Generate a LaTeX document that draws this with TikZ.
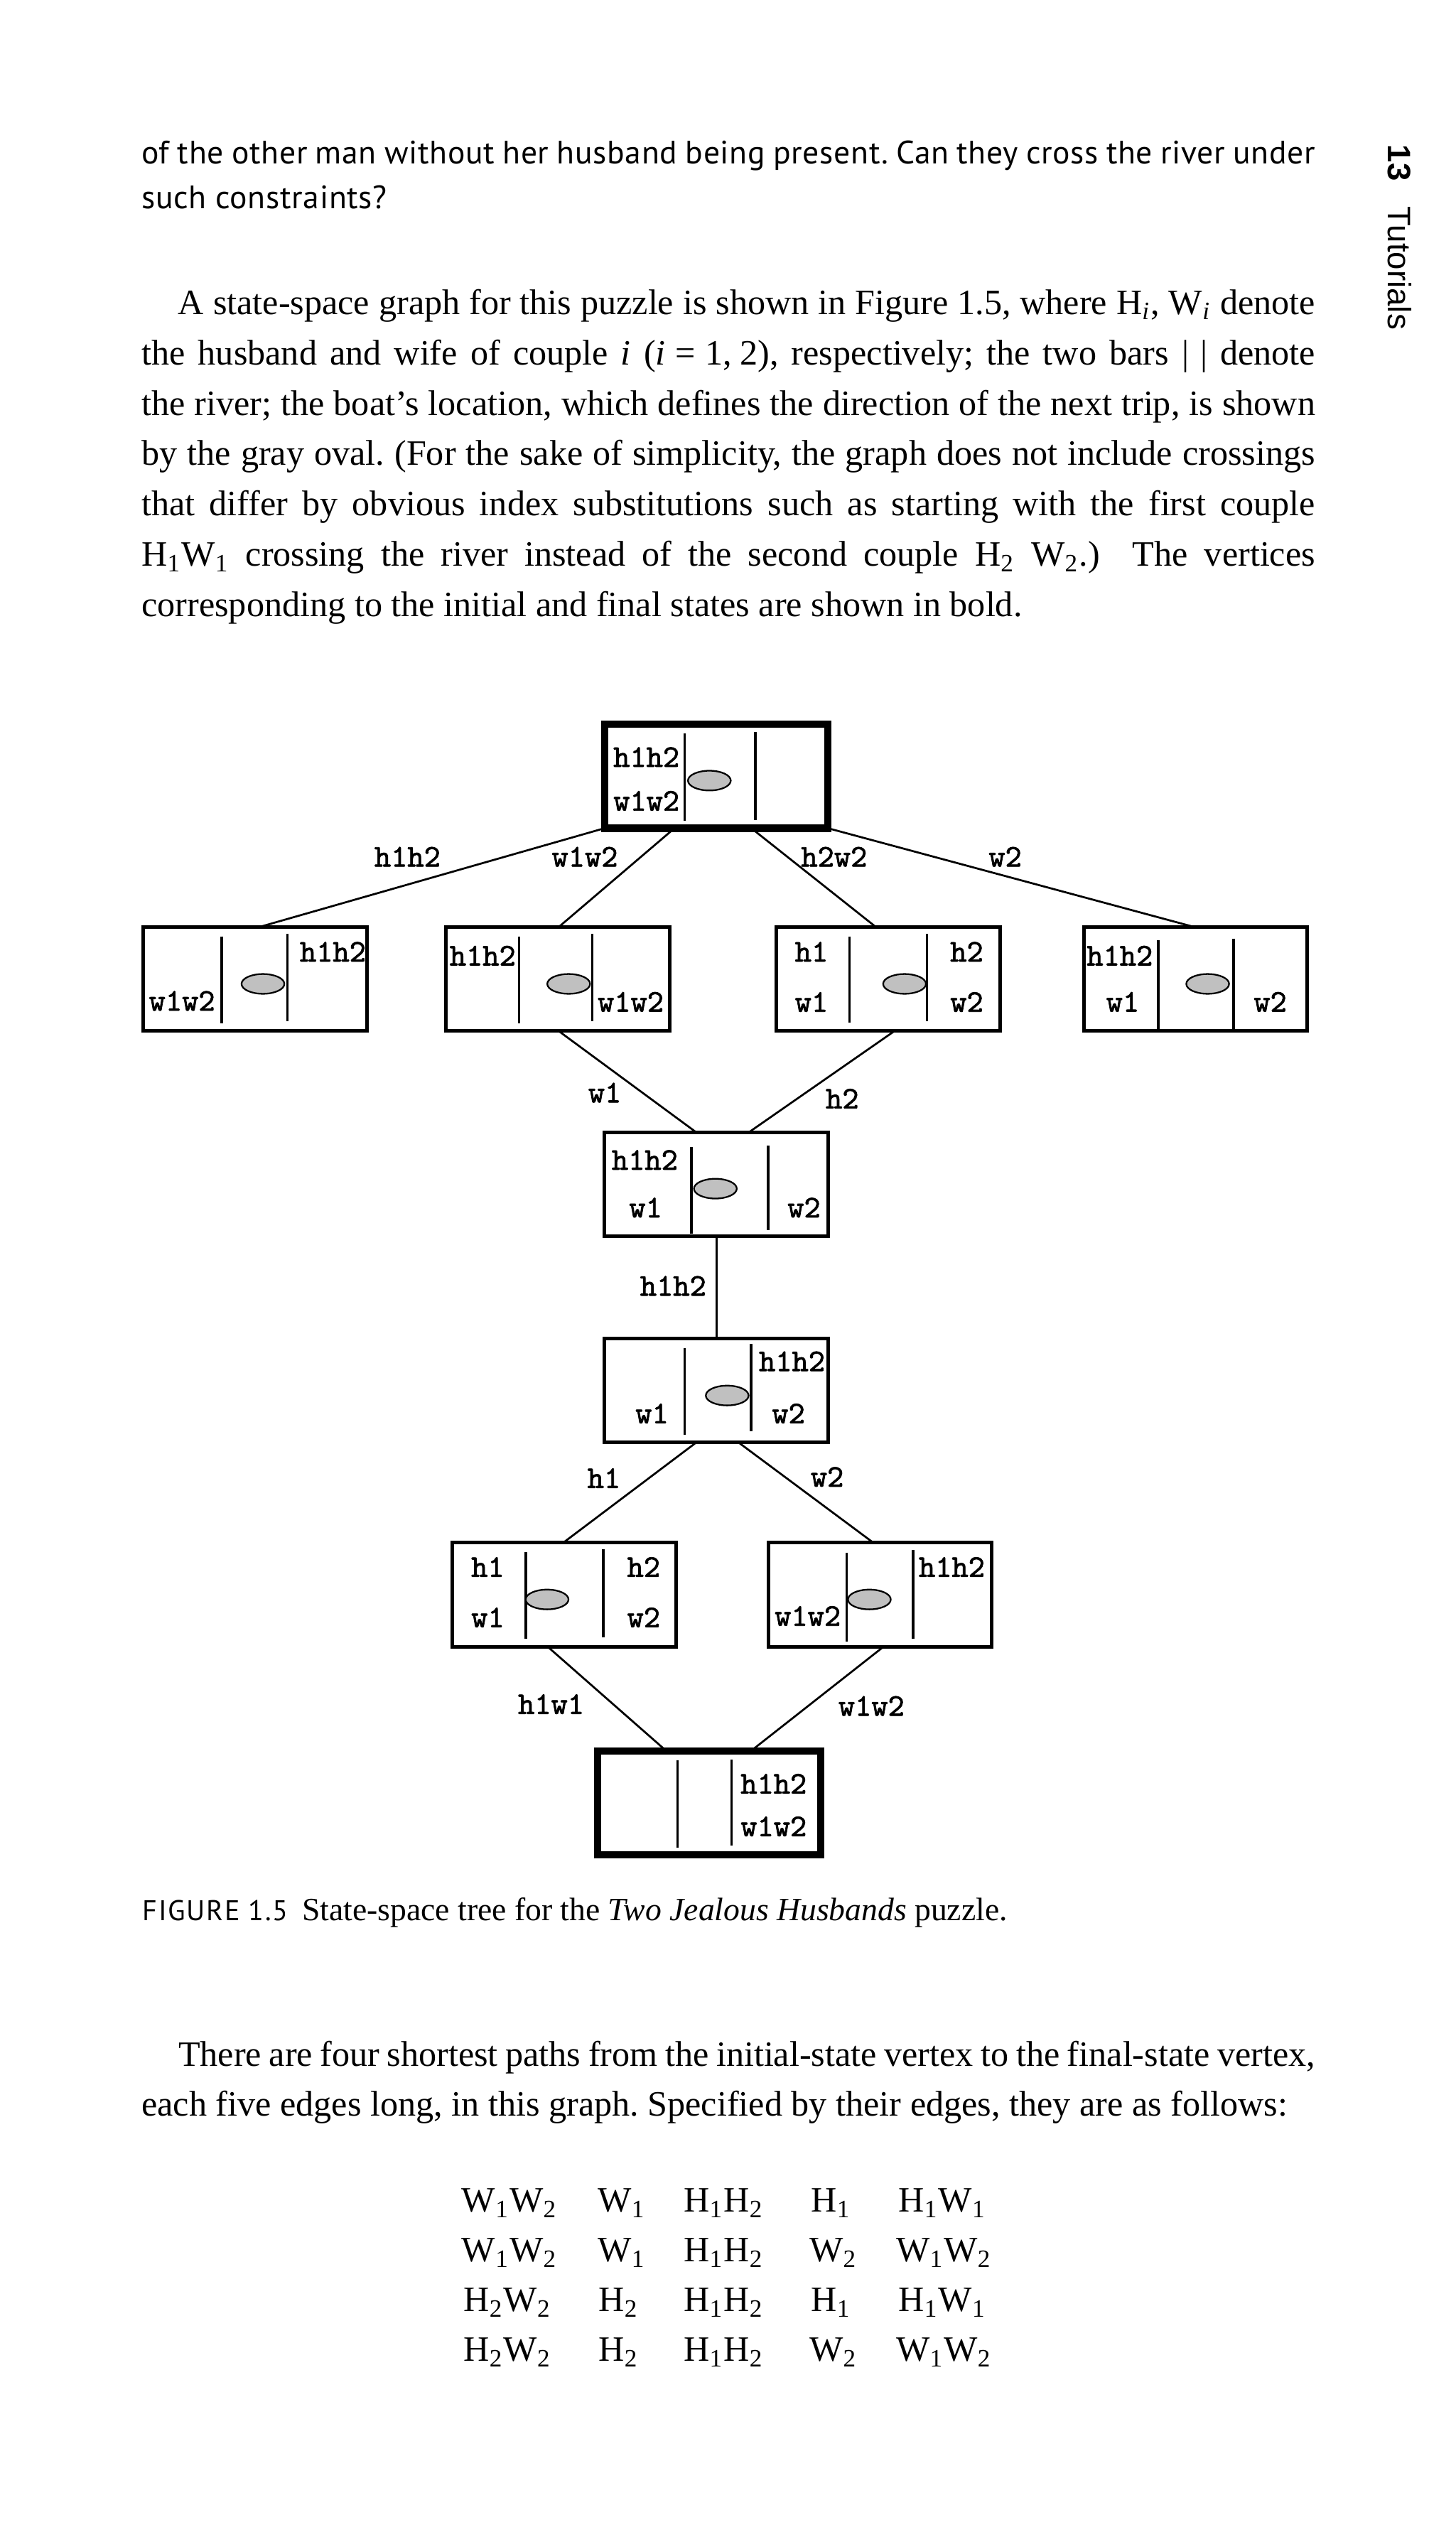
\documentclass[tikz,border=0pt]{standalone}
\usepackage{fontspec}
\setmainfont{Liberation Serif}
\newfontfamily\ptsans[LetterSpace=1.5]{PT Sans}
\newfontfamily\capsans[LetterSpace=4]{PT Sans}
\newfontfamily\libsans{Liberation Sans}
\newfontfamily\monob[FakeBold=1.6]{Latin Modern Mono}
\usetikzlibrary{calc}
\definecolor{boatgray}{RGB}{192,192,192}
\newcommand\Hsb[1]{H\textsubscript{#1}}
\newcommand\Wsb[1]{W\textsubscript{#1}}
\frenchspacing
\begin{document}
\frenchspacing
\begin{tikzpicture}[x=0.5pt,y=-0.5pt,
  state/.style={draw, line width=1.1pt, minimum width=69pt, minimum height=32.1pt, inner sep=0, outer sep=0, line join=miter},
  initstate/.style={state, line width=2.2pt},
  bar/.style={line width=0.75pt},
  boat/.style={draw=black, line width=0.5pt, fill=boatgray},
  edge/.style={line width=0.6pt},
  lbl/.style={font=\monob\fontsize{9.7}{10}\selectfont, inner sep=0, anchor=base west},
  body/.style={font=\fontsize{11}{13}\selectfont, inner sep=0, anchor=base west},
  sans/.style={font=\ptsans\fontsize{10}{12}\selectfont, inner sep=0, anchor=base west}]
\fill[white] (0,0) rectangle (898,1568);
\useasboundingbox (0,0) rectangle (898,1568);

% ---------- text above ----------
\node[sans] (t1) at (87,101) {\makebox[362pt][s]{of the other man without her husband being present. Can they cross the river under}};
\node[sans] (t2) at (87,128.5) {such constraints?};

\node[body] (p1) at (109.6,193.8) {\makebox[350.7pt][s]{A state-space graph for this puzzle is shown in Figure 1.5, where H\textsubscript{\textit{i}}, W\textsubscript{\textit{i}} denote}};
\node[body] (p2) at (87,224.9) {\makebox[362pt][s]{the husband and wife of couple \textit{i} (\textit{i}\hspace{3pt}=\hspace{3pt}1,\hspace{2.5pt}2), respectively; the two bars |\hspace{3.5pt}| denote}};
\node[body] (p3) at (87,256) {\makebox[362pt][s]{the river; the boat’s location, which defines the direction of the next trip, is shown}};
\node[body] (p4) at (87,287.1) {\makebox[362pt][s]{by the gray oval. (For the sake of simplicity, the graph does not include crossings}};
\node[body] (p5) at (87,318.2) {\makebox[362pt][s]{that differ by obvious index substitutions such as starting with the first couple}};
\node[body] (p6) at (87,349.3) {\makebox[362pt][s]{\Hsb{1}\Wsb{1} crossing the river instead of the second couple \Hsb{2} \Wsb{2}.)\ \ The vertices}};
\node[body] (p7) at (87,380.4) {corresponding to the initial and final states are shown in bold.};

% margin
\node[anchor=base west, inner sep=0, rotate=-90, font=\libsans\bfseries\fontsize{10}{12}\selectfont] (pg) at (856.5,89) {13};
\node[anchor=base west, inner sep=0, rotate=-90, font=\libsans\fontsize{10}{12}\selectfont] (run) at (856.5,127) {Tutorials};

% ---------- states ----------
\node[initstate] (b0) at (441.85,478.8) {};
\node[state] (b1) at (157.25,603.9) {};
\node[state] (b2) at (344,603.9) {};
\node[state] (b3) at (547.9,603.9) {};
\node[state] (b4) at (737.55,603.9) {};
\node[state] (b5) at (442,730.6) {};
\node[state] (b6) at (442,857.6) {};
\node[state] (b7) at (348,983.7) {};
\node[state] (b8) at (542.9,983.7) {};
\node[initstate] (b9) at (437.5,1112.2) {};

% b0
\node[lbl] (b0a) at (378,473) {h1h2};
\node[lbl] (b0b) at (378,500) {w1w2};
\draw[bar] (422.3,452.5) -- (422.3,506.5);
\draw[bar] (466,451.6) -- (466,506);
\draw[boat] (437.6,481.5) ellipse [x radius=6.6pt, y radius=3.05pt];
% b1
\node[lbl] (b1a) at (91.5,623.4) {w1w2};
\node[lbl] (b1b) at (184.6,593.1) {h1h2};
\draw[bar] (136.8,577.6) -- (136.8,631.4);
\draw[bar] (177.4,575.9) -- (177.4,630);
\draw[boat] (162.2,606.9) ellipse [x radius=6.6pt, y radius=3.05pt];
% b2
\node[lbl] (b2a) at (277,595.5) {h1h2};
\node[lbl] (b2b) at (368.3,624) {w1w2};
\draw[bar] (320.2,577.6) -- (320.2,631.4);
\draw[bar] (365.3,575.9) -- (365.3,630);
\draw[boat] (350.8,606.9) ellipse [x radius=6.6pt, y radius=3.05pt];
% b3
\node[lbl] (b3a) at (490,593.1) {h1};
\node[lbl] (b3b) at (490,624.1) {w1};
\node[lbl] (b3c) at (585.8,593.1) {h2};
\node[lbl] (b3d) at (585.8,624.1) {w2};
\draw[bar] (524,577.6) -- (524,631);
\draw[bar] (571.8,576) -- (571.8,630);
\draw[boat] (558,606.9) ellipse [x radius=6.6pt, y radius=3.05pt];
% b4
\node[lbl] (b4a) at (670,595.5) {h1h2};
\node[lbl] (b4b) at (682,624) {w1};
\node[lbl] (b4c) at (773,624) {w2};
\draw[bar] (714.6,580) -- (714.6,635);
\draw[bar] (761,579) -- (761,635);
\draw[boat] (745,606.9) ellipse [x radius=6.6pt, y radius=3.05pt];
% b5
\node[lbl] (b5a) at (377,721.5) {h1h2};
\node[lbl] (b5b) at (387.7,750.9) {w1};
\node[lbl] (b5c) at (485.4,750.9) {w2};
\draw[bar] (426.6,707.6) -- (426.6,761);
\draw[bar] (473.8,706.8) -- (473.8,759);
\draw[boat] (441.3,733.2) ellipse [x radius=6.6pt, y radius=3.05pt];
% b6
\node[lbl] (b6a) at (391.6,877.9) {w1};
\node[lbl] (b6b) at (467.8,845.7) {h1h2};
\node[lbl] (b6c) at (475.8,877.9) {w2};
\draw[bar] (422.3,831.5) -- (422.3,885);
\draw[bar] (463.3,829) -- (463.3,883);
\draw[boat] (448.6,860.8) ellipse [x radius=6.6pt, y radius=3.05pt];
% b7
\node[lbl] (b7a) at (290.3,972.6) {h1};
\node[lbl] (b7b) at (290.3,1003.7) {w1};
\node[lbl] (b7c) at (386.5,972.6) {h2};
\node[lbl] (b7d) at (386.5,1003.7) {w2};
\draw[bar] (324.3,957.2) -- (324.3,1011);
\draw[bar] (372.1,955.8) -- (372.1,1010);
\draw[boat] (337.5,986.6) ellipse [x radius=6.6pt, y radius=3.05pt];
% b8
\node[lbl] (b8a) at (477.5,1002.8) {w1w2};
\node[lbl] (b8b) at (566.4,972.6) {h1h2};
\draw[bar] (522.4,957.7) -- (522.4,1012.4);
\draw[bar] (563.2,956.2) -- (563.2,1010.9);
\draw[boat] (536.3,986.6) ellipse [x radius=6.6pt, y radius=3.05pt];
% b9
\node[lbl] (b9a) at (456.5,1106.3) {h1h2};
\node[lbl] (b9b) at (456.5,1132.6) {w1w2};
\draw[bar] (417.9,1085.8) -- (417.9,1139.6);
\draw[bar] (451.4,1085.5) -- (451.4,1138.5);

% ---------- edges ----------
\draw[edge] ($(b0.south west)!0.0!(b0.south east)$) -- ($(b1.north west)!0.52!(b1.north east)$);
\draw[edge] ($(b0.south west)!0.313!(b0.south east)$) -- ($(b2.north west)!0.505!(b2.north east)$);
\draw[edge] ($(b0.south west)!0.657!(b0.south east)$) -- ($(b3.north west)!0.445!(b3.north east)$);
\draw[edge] ($(b0.south west)!1.0!(b0.south east)$) -- ($(b4.north west)!0.494!(b4.north east)$);
\draw[edge] ($(b2.south west)!0.505!(b2.south east)$) -- ($(b5.north west)!0.41!(b5.north east)$);
\draw[edge] ($(b3.south west)!0.528!(b3.south east)$) -- ($(b5.north west)!0.644!(b5.north east)$);
\draw[edge] (b5.south) -- (b6.north);
\draw[edge] ($(b6.south west)!0.41!(b6.south east)$) -- ($(b7.north west)!0.496!(b7.north east)$);
\draw[edge] ($(b6.south west)!0.598!(b6.south east)$) -- ($(b8.north west)!0.47!(b8.north east)$);
\draw[edge] ($(b7.south west)!0.427!(b7.south east)$) -- ($(b9.north west)!0.309!(b9.north east)$);
\draw[edge] ($(b8.south west)!0.515!(b8.south east)$) -- ($(b9.north west)!0.686!(b9.north east)$);

% edge labels
\node[lbl] (e1) at (230.6,534.5) {h1h2};
\node[lbl] (e2) at (340,534.5) {w1w2};
\node[lbl] (e3) at (493.8,534.5) {h2w2};
\node[lbl] (e4) at (609.5,534.5) {w2};
\node[lbl] (e5) at (362.5,680) {w1};
\node[lbl] (e6) at (509,683.7) {h2};
\node[lbl] (e7) at (394.5,799.2) {h1h2};
\node[lbl] (e8) at (362,917.8) {h1};
\node[lbl] (e9) at (499.7,917) {w2};
\node[lbl] (e10) at (319.2,1057.2) {h1w1};
\node[lbl] (e11) at (516.8,1058.3) {w1w2};

% ---------- caption and text below ----------
\node[anchor=base west, inner sep=0, font=\capsans\fontsize{8.8}{11}\selectfont] (capl) at (87.7,1184.8) {FIGURE 1.5};
\node[body, font=\fontsize{10}{12}\selectfont] (capt) at (186,1184.8) {State-space tree for the \textit{Two Jealous Husbands} puzzle.};

\node[body] (q1) at (109.7,1274.3) {\makebox[350.65pt][s]{There are four shortest paths from the initial-state vertex to the final-state vertex,}};
\node[body] (q2) at (87,1305.4) {each five edges long, in this graph. Specified by their edges, they are as follows:};

% paths table
\node[body] (r1c1) at (284.5,1364.4) {\Wsb{1}\Wsb{2}};
\node[body] (r1c2) at (368.5,1364.4) {\Wsb{1}};
\node[body] (r1c3) at (421.5,1364.4) {\Hsb{1}\Hsb{2}};
\node[body] (r1c4) at (500,1364.4) {\Hsb{1}};
\node[body] (r1c5) at (554,1364.4) {\Hsb{1}\Wsb{1}};
\node[body] (r2c1) at (284.5,1395.1) {\Wsb{1}\Wsb{2}};
\node[body] (r2c2) at (368.5,1395.1) {\Wsb{1}};
\node[body] (r2c3) at (421.5,1395.1) {\Hsb{1}\Hsb{2}};
\node[body] (r2c4) at (499,1395.1) {\Wsb{2}};
\node[body] (r2c5) at (552.5,1395.1) {\Wsb{1}\Wsb{2}};
\node[body] (r3c1) at (285.7,1425.8) {\Hsb{2}\Wsb{2}};
\node[body] (r3c2) at (369,1425.8) {\Hsb{2}};
\node[body] (r3c3) at (421.5,1425.8) {\Hsb{1}\Hsb{2}};
\node[body] (r3c4) at (500,1425.8) {\Hsb{1}};
\node[body] (r3c5) at (554,1425.8) {\Hsb{1}\Wsb{1}};
\node[body] (r4c1) at (285.7,1456.5) {\Hsb{2}\Wsb{2}};
\node[body] (r4c2) at (369,1456.5) {\Hsb{2}};
\node[body] (r4c3) at (421.5,1456.5) {\Hsb{1}\Hsb{2}};
\node[body] (r4c4) at (499,1456.5) {\Wsb{2}};
\node[body] (r4c5) at (552.5,1456.5) {\Wsb{1}\Wsb{2}};
\end{tikzpicture}
\end{document}
